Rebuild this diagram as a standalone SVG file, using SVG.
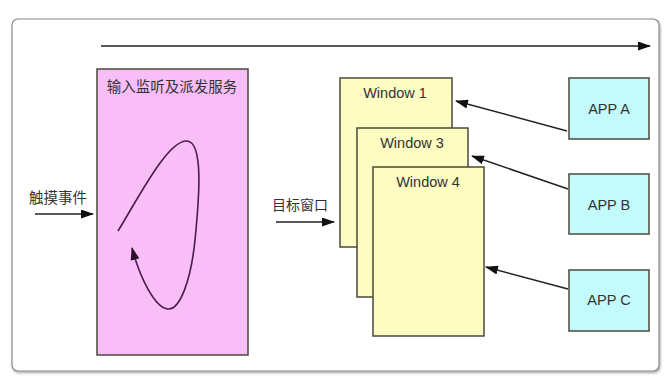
<svg xmlns="http://www.w3.org/2000/svg" width="669" height="384" viewBox="0 0 669 384">
<defs>
<marker id="ah" markerWidth="13" markerHeight="9" refX="12" refY="4.5" orient="auto" markerUnits="userSpaceOnUse">
<path d="M0,0 L13,4.5 L0,9 Z" fill="#111"/>
</marker>
<marker id="ahp" markerWidth="13" markerHeight="9" refX="12" refY="4.5" orient="auto" markerUnits="userSpaceOnUse">
<path d="M0,0 L13,4.5 L0,9 Z" fill="#2a0f2a"/>
</marker>
<filter id="sh" x="-5%" y="-5%" width="110%" height="110%">
<feDropShadow dx="1" dy="1.5" stdDeviation="1" flood-color="#000" flood-opacity="0.35"/>
</filter>
</defs>
<style>
.t{font-family:"Liberation Sans","Noto Sans CJK SC",sans-serif;fill:#333;text-anchor:middle;dominant-baseline:central}
.box{stroke:#4a4a3a;stroke-width:1.5}
.win{fill:#fdfcc3}
.app{fill:#c3fbfd}
.ln{stroke:#222;stroke-width:1.5;fill:none}
</style>
<rect width="669" height="384" fill="#fff"/>
<rect x="12" y="19" width="647" height="352" rx="6" fill="#fff" stroke="#8a8a8a" stroke-width="1.2" filter="url(#sh)"/>

<g id="service">
<rect class="box" x="97" y="69" width="151" height="286" fill="#f9bdf8"/>
<text class="t" x="172" y="87" font-size="14.5">输入监听及派发服务</text>
<path d="M118,231 C140,195 168,140 187,141 C204,142 199,200 195,240 C191,280 180,310 168,309 C155,308 140,278 132,248" fill="none" stroke="#4a1a4a" stroke-width="1.6" marker-end="url(#ahp)"/>
</g>

<g id="window1">
<rect class="box win" x="340" y="78" width="112" height="169"/>
<text class="t" x="395" y="93" font-size="14.5">Window 1</text>
</g>
<g id="window3">
<rect class="box win" x="357" y="128" width="111" height="169"/>
<text class="t" x="412" y="143" font-size="14.5">Window 3</text>
</g>
<g id="window4">
<rect class="box win" x="373" y="167" width="111" height="169"/>
<text class="t" x="428" y="182" font-size="14.5">Window 4</text>
</g>

<g id="appA">
<rect class="box app" x="569" y="78" width="80" height="61"/>
<text class="t" x="609" y="109" font-size="14.5">APP A</text>
</g>
<g id="appB">
<rect class="box app" x="569" y="174" width="80" height="60"/>
<text class="t" x="609" y="205" font-size="14.5">APP B</text>
</g>
<g id="appC">
<rect class="box app" x="569" y="270" width="80" height="61"/>
<text class="t" x="609" y="300" font-size="14.5">APP C</text>
</g>

<g id="labels">
<text class="t" x="58" y="198" font-size="14.5">触摸事件</text>
<text class="t" x="300" y="205" font-size="14">目标窗口</text>
</g>

<g id="connectors">
<line class="ln" x1="101" y1="46" x2="650" y2="46" marker-end="url(#ah)"/>
<line class="ln" x1="35" y1="214" x2="93" y2="214" marker-end="url(#ah)"/>
<line class="ln" x1="276" y1="222" x2="334" y2="222" marker-end="url(#ah)"/>
<line class="ln" x1="567" y1="131" x2="456" y2="101" marker-end="url(#ah)"/>
<line class="ln" x1="568" y1="189" x2="472" y2="156" marker-end="url(#ah)"/>
<line class="ln" x1="568" y1="289" x2="486" y2="267" marker-end="url(#ah)"/>
</g>
</svg>
